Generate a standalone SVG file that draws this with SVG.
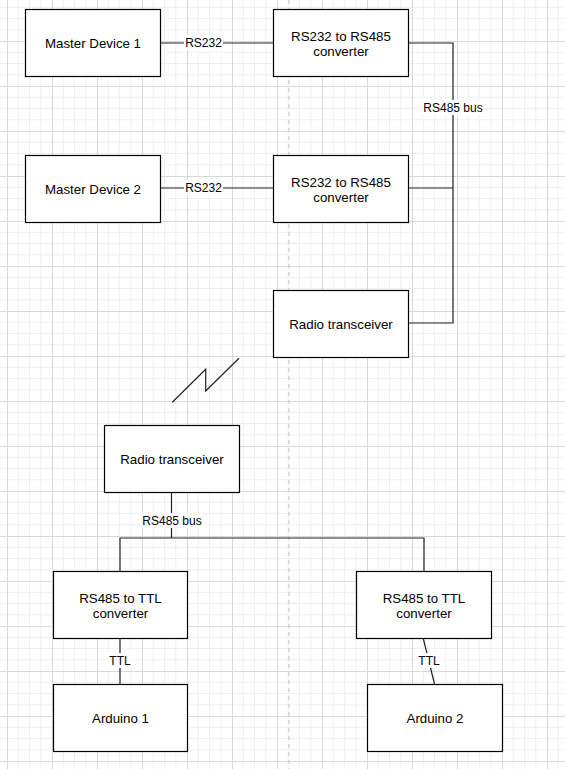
<svg xmlns="http://www.w3.org/2000/svg" width="565" height="769" viewBox="0 0 565 769">
<style>
.node rect{fill:#fff;stroke:#000;stroke-width:1.2}
.node text{font-family:"Liberation Sans",Arial,sans-serif;font-size:13.3px;fill:#000;text-anchor:middle}
.edge{fill:none;stroke:#222;stroke-width:1.2}
.lbl{font-family:"Liberation Sans",Arial,sans-serif;font-size:12px;fill:#000;text-anchor:middle}
.lblbg{fill:#fff}
</style>
<defs>
<pattern id="grid" patternUnits="userSpaceOnUse" x="7" y="41" width="45" height="45">
<path d="M11.25 0V45M22.5 0V45M33.75 0V45M0 11.25H45M0 22.5H45M0 33.75H45" stroke="#f0f0f0" stroke-width="1" fill="none"/>
<path d="M0.5 0V45M0 0.5H45" stroke="#d9d9d9" stroke-width="1" fill="none"/>
</pattern>
</defs>
<rect width="565" height="769" fill="#fff"/>
<rect width="565" height="769" fill="url(#grid)"/>
<line x1="289" y1="0" x2="289" y2="769" stroke="#c4c4c4" stroke-width="1" stroke-dasharray="4 4"/>
<g id="connectors">
<path class="edge" d="M160.5 43H273.5"/>
<path class="edge" d="M160.5 188H273.5"/>
<path class="edge" d="M408.5 43H453V323H408.5"/>
<path class="edge" d="M408.5 188H453"/>
<path class="edge" d="M171.5 492.5V538"/>
<path class="edge" d="M120 571V538H424V571"/>
<path class="edge" d="M120 638.5V684"/>
<path class="edge" d="M423.3 638.5L434.5 684"/>
<polyline class="edge" points="172.3,402.3 205.7,369.3 205.7,391 239,358.3" stroke="#111"/>
<rect class="lblbg" x="184" y="35" width="39" height="15"/>
<text class="lbl" x="203.5" y="47.3">RS232</text>
<rect class="lblbg" x="184" y="180" width="39" height="15"/>
<text class="lbl" x="203.5" y="192.3">RS232</text>
<rect class="lblbg" x="422" y="100" width="62" height="15"/>
<text class="lbl" x="453" y="112.3">RS485 bus</text>
<rect class="lblbg" x="141" y="513" width="62" height="15"/>
<text class="lbl" x="172" y="525.3">RS485 bus</text>
<rect class="lblbg" x="107" y="653" width="26" height="15"/>
<text class="lbl" x="120" y="665.3">TTL</text>
<rect class="lblbg" x="416" y="653" width="26" height="15"/>
<text class="lbl" x="429" y="665.3">TTL</text>
</g>
<g id="master1" class="node"><rect x="25.5" y="9.5" width="135" height="67"/><text x="93" y="47.7">Master Device 1</text></g>
<g id="conv1" class="node"><rect x="273.5" y="9.5" width="135" height="67"/><text x="341" y="40.5">RS232 to RS485</text><text x="341" y="56">converter</text></g>
<g id="master2" class="node"><rect x="25.5" y="155.5" width="135" height="67"/><text x="93" y="193.7">Master Device 2</text></g>
<g id="conv2" class="node"><rect x="273.5" y="155.5" width="135" height="67"/><text x="341" y="186.5">RS232 to RS485</text><text x="341" y="202">converter</text></g>
<g id="radio1" class="node"><rect x="273.5" y="290.5" width="135" height="67"/><text x="341" y="328.7">Radio transceiver</text></g>
<g id="radio2" class="node"><rect x="104.5" y="425.5" width="135" height="67"/><text x="172" y="463.7">Radio transceiver</text></g>
<g id="ttl1" class="node"><rect x="53.5" y="571.5" width="134" height="67"/><text x="120.5" y="602.5">RS485 to TTL</text><text x="120.5" y="618">converter</text></g>
<g id="ttl2" class="node"><rect x="356.5" y="571.5" width="135" height="67"/><text x="424" y="602.5">RS485 to TTL</text><text x="424" y="618">converter</text></g>
<g id="arduino1" class="node"><rect x="53.5" y="684.5" width="134" height="67"/><text x="120.5" y="722.7">Arduino 1</text></g>
<g id="arduino2" class="node"><rect x="367.5" y="684.5" width="135" height="67"/><text x="435" y="722.7">Arduino 2</text></g>
</svg>
